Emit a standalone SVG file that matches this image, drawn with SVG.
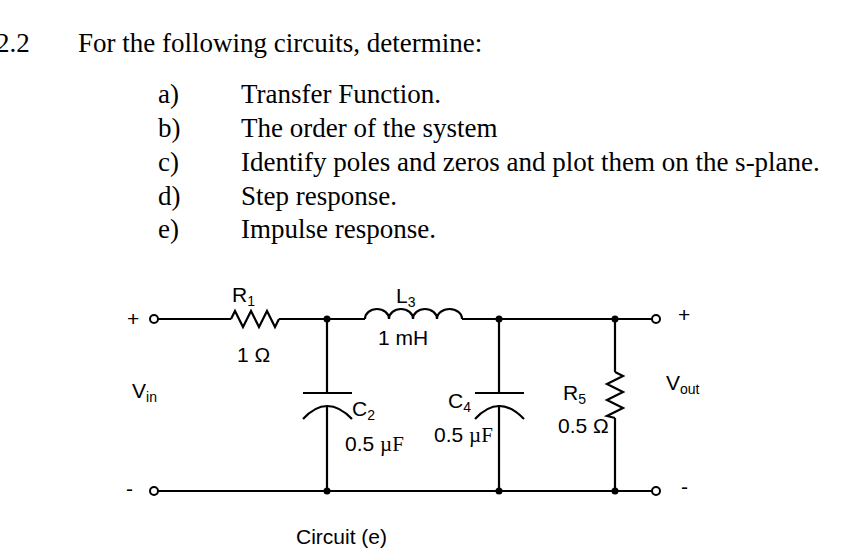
<svg xmlns="http://www.w3.org/2000/svg" width="864" height="552" viewBox="0 0 864 552">
<style>
.t{font-family:"Liberation Serif",serif;font-size:27px;fill:#000}
.a{font-family:"Liberation Sans",sans-serif;font-size:21px;fill:#000}
.s{font-size:14px}
.w{stroke:#000;stroke-width:2.2;fill:none}
.d{fill:#000}
.o{fill:#fff;stroke:#000;stroke-width:2}
</style>
<rect width="864" height="552" fill="#fff"/>
<text class="t" x="-4" y="52">2.2</text>
<text class="t" x="78" y="52">For the following circuits, determine:</text>
<g class="t">
<text x="158" y="103">a)</text><text x="241" y="103">Transfer Function.</text>
<text x="158" y="137">b)</text><text x="241" y="137">The order of the system</text>
<text x="158" y="171">c)</text><text x="241" y="171">Identify poles and zeros and plot them on the s-plane.</text>
<text x="158" y="205">d)</text><text x="241" y="205">Step response.</text>
<text x="158" y="238">e)</text><text x="241" y="238">Impulse response.</text>
</g>
<g id="connectors" class="w">
<path d="M157,319 H231 M279,319 H365 M462,319 H653"/>
<path d="M157,491 H653"/>
<path d="M327,319 V393 M327,405 V491"/>
<path d="M499,319 V393 M499,405 V491"/>
<path d="M615,319 V372 M615,418 V491"/>
</g>
<g id="R1"><path class="w" d="M231,319 l4,-8 l8,16 l8,-16 l8,16 l8,-16 l8,16 l4,-8"/>
<text class="a" x="232" y="302">R<tspan class="s" dy="4">1</tspan></text>
<text class="a" x="237" y="362">1 Ω</text></g>
<g id="L3"><path class="w" d="M365,319 a12,10 0 0 1 24,0 a12,10 0 0 1 24,0 a12,10 0 0 1 24,0 a12.5,10 0 0 1 25,0"/>
<text class="a" x="396" y="303">L<tspan class="s" dy="4">3</tspan></text>
<text class="a" x="378" y="345">1 mH</text></g>
<g id="C2"><path class="w" d="M303,393 H352 M303,419 Q327,393 352,419"/>
<text class="a" x="352" y="416">C<tspan class="s" dy="4">2</tspan></text>
<text class="a" x="345" y="451">0.5 <tspan font-family="Liberation Serif">µF</tspan></text></g>
<g id="C4"><path class="w" d="M475,393 H524 M475,419 Q499,393 524,419"/>
<text class="a" x="448" y="408">C<tspan class="s" dy="4">4</tspan></text>
<text class="a" x="434" y="442">0.5 <tspan font-family="Liberation Serif">µF</tspan></text></g>
<g id="R5"><path class="w" d="M615,372 l8,4 l-16,8 l16,8 l-16,8 l16,8 l-16,8 l8,2"/>
<text class="a" x="563" y="400">R<tspan class="s" dy="4">5</tspan></text>
<text class="a" x="558" y="433">0.5 Ω</text></g>
<g id="nodes">
<circle class="d" cx="327" cy="319" r="3.5"/><circle class="d" cx="499" cy="319" r="3.5"/><circle class="d" cx="615" cy="319" r="3.5"/>
<circle class="d" cx="327" cy="491" r="3.5"/><circle class="d" cx="499" cy="491" r="3.5"/><circle class="d" cx="615" cy="491" r="3.5"/>
<circle class="o" cx="154" cy="319" r="4"/><circle class="o" cx="154" cy="491" r="4"/>
<circle class="o" cx="656" cy="319" r="4"/><circle class="o" cx="656" cy="491" r="4"/>
</g>
<text class="a" x="127" y="326" font-size="12">+</text>
<text class="a" x="126" y="496" font-size="14">-</text>
<text class="a" x="678" y="322" font-size="14">+</text>
<text class="a" x="681" y="494" font-size="14">-</text>
<text class="a" x="132" y="398">V<tspan class="s" dy="4">in</tspan></text>
<text class="a" x="666" y="390">V<tspan class="s" dy="4">out</tspan></text>
<text class="a" x="296" y="544">Circuit (e)</text>
</svg>
